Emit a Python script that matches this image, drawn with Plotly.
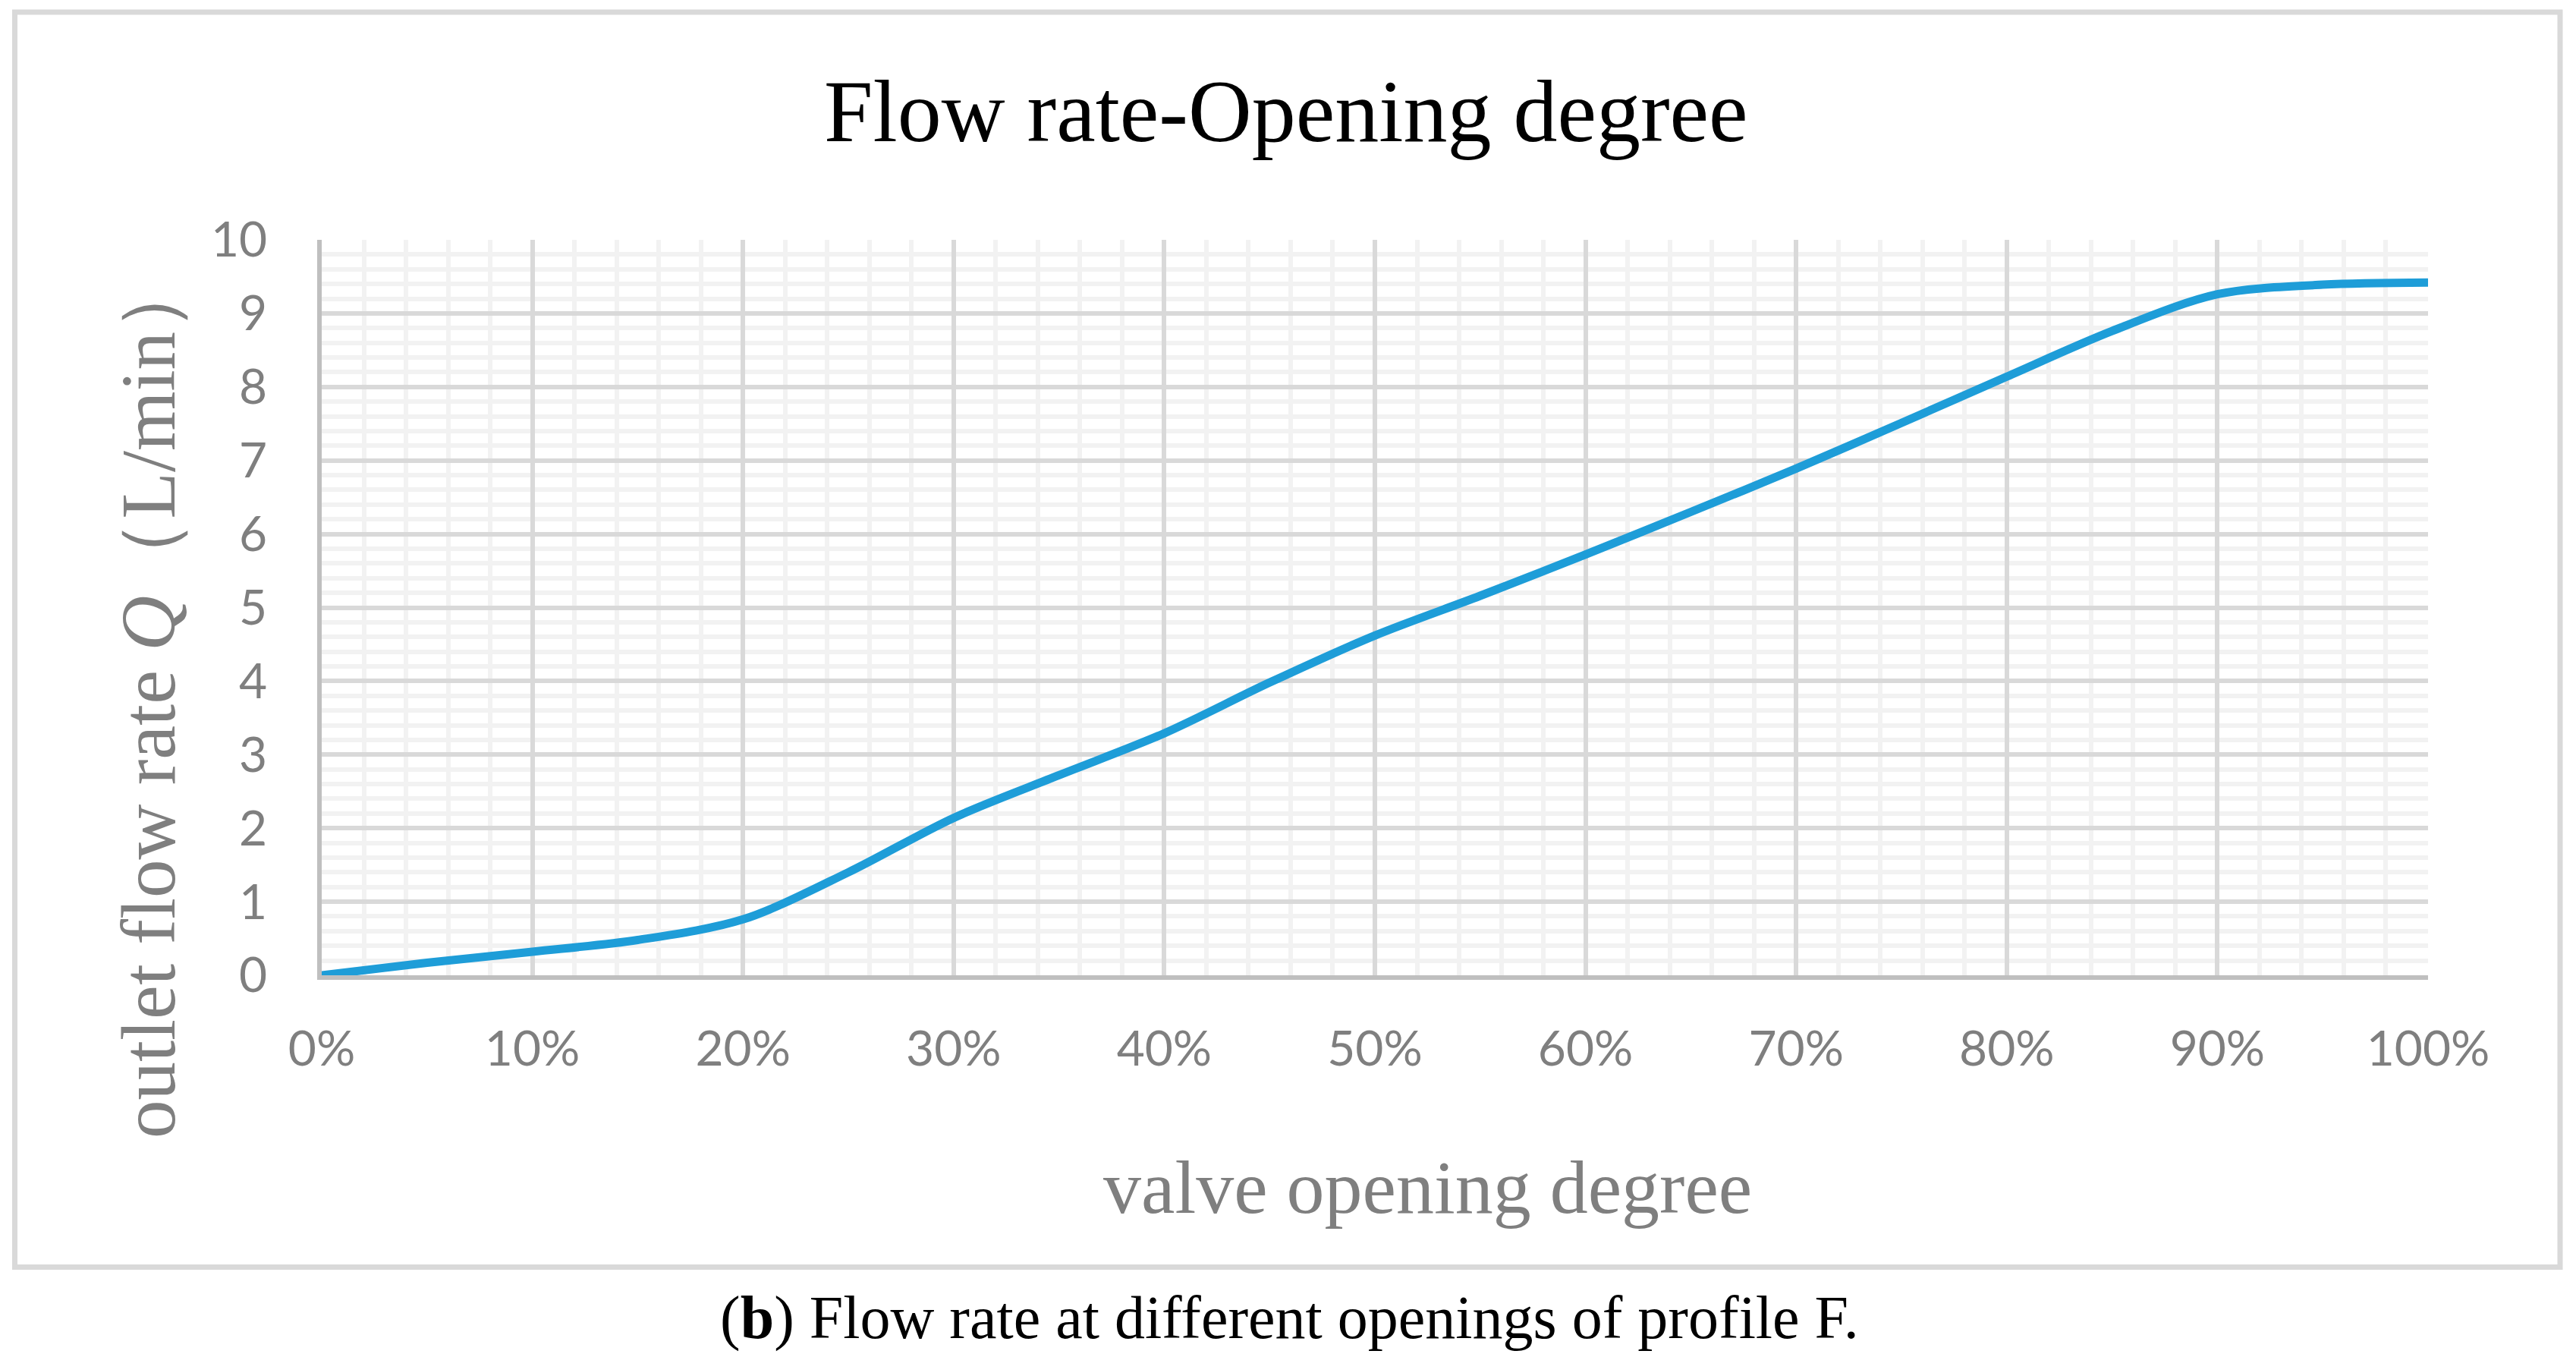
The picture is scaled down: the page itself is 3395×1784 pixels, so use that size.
#!/usr/bin/env python3

# +
# import(s)
# -
import plotly.graph_objs as go


# +
# data
# -
opening = [0.00, 0.05, 0.10, 0.15, 0.20, 0.25, 0.30, 0.35, 0.40, 0.45, 0.50,
           0.55, 0.60, 0.65, 0.70, 0.75, 0.80, 0.85, 0.90, 0.95, 1.00]
flow_rate = [0.00, 0.17, 0.32, 0.48, 0.76, 1.40, 2.14, 2.72, 3.29, 3.98, 4.62,
             5.16, 5.72, 6.30, 6.89, 7.51, 8.14, 8.76, 9.26, 9.39, 9.42]

chart_title = 'Flow rate-Opening degree'
x_title = 'valve opening degree'
y_title = 'outlet flow rate <i>Q</i>\uff08L/min\uff09'
caption = '(<b>b</b>) Flow rate at different openings of profile F.'


# +
# figure
# -
W, H = 3395, 1784
L, R, T, B = 424, 3200, 316, 1285


def px(x):
    return (x - L) / (R - L)


def py(y):
    return (B - y) / (B - T)


serif = 'Liberation Serif, Times New Roman, serif'
grey = '#7f7f7f'

fig = go.Figure()
fig.add_trace(go.Scatter(x=opening, y=flow_rate, mode='lines',
                         line=dict(color='#1e9dd8', width=11, shape='spline', smoothing=0.9),
                         showlegend=False, hoverinfo='x+y'))

axis_common = dict(showline=True, linecolor='#bfbfbf', linewidth=6, zeroline=False,
                   showgrid=True, gridcolor='#d9d9d9', gridwidth=6, ticks='',
                   layer='below traces',
                   tickfont=dict(family='Lato, Noto Sans, sans-serif', size=64, color=grey))

fig.update_layout(
    width=W, height=H,
    margin=dict(l=L, r=W - R, t=T, b=H - B, pad=0),
    paper_bgcolor='white', plot_bgcolor='white',
    xaxis=dict(range=[0, 1], dtick=0.1, tick0=0, tickformat='.0%', ticklabelstandoff=36,
               minor=dict(dtick=0.02, showgrid=True, gridcolor='#f2f2f2', gridwidth=6),
               **axis_common),
    yaxis=dict(range=[0, 10], dtick=1, tick0=0, ticklabelstandoff=53,
               minor=dict(dtick=0.2, showgrid=True, gridcolor='#f2f2f2', gridwidth=6),
               **axis_common),
    shapes=[dict(type='rect', xref='paper', yref='paper',
                 x0=px(19.5), x1=px(3374), y0=py(1669.5), y1=py(16),
                 line=dict(color='#d9d9d9', width=7), layer='below')],
    annotations=[
        dict(text=chart_title, xref='paper', yref='paper', x=px(1695), y=py(147),
             xanchor='center', yanchor='middle', showarrow=False,
             font=dict(family=serif, size=116, color='black')),
        dict(text=y_title, xref='paper', yref='paper', x=px(196), y=py(918),
             xanchor='center', yanchor='middle', showarrow=False, textangle=-90,
             font=dict(family=serif, size=101, color=grey)),
        dict(text=x_title, xref='paper', yref='paper', x=px(1881), y=py(1564),
             xanchor='center', yanchor='middle', showarrow=False,
             font=dict(family=serif, size=100, color=grey)),
        dict(text=caption, xref='paper', yref='paper', x=px(1699), y=py(1736),
             xanchor='center', yanchor='middle', showarrow=False,
             font=dict(family=serif, size=80, color='black')),
    ],
)

fig.write_html('out.html', config={'displayModeBar': False},
               post_script="document.body.style.margin='0';")
